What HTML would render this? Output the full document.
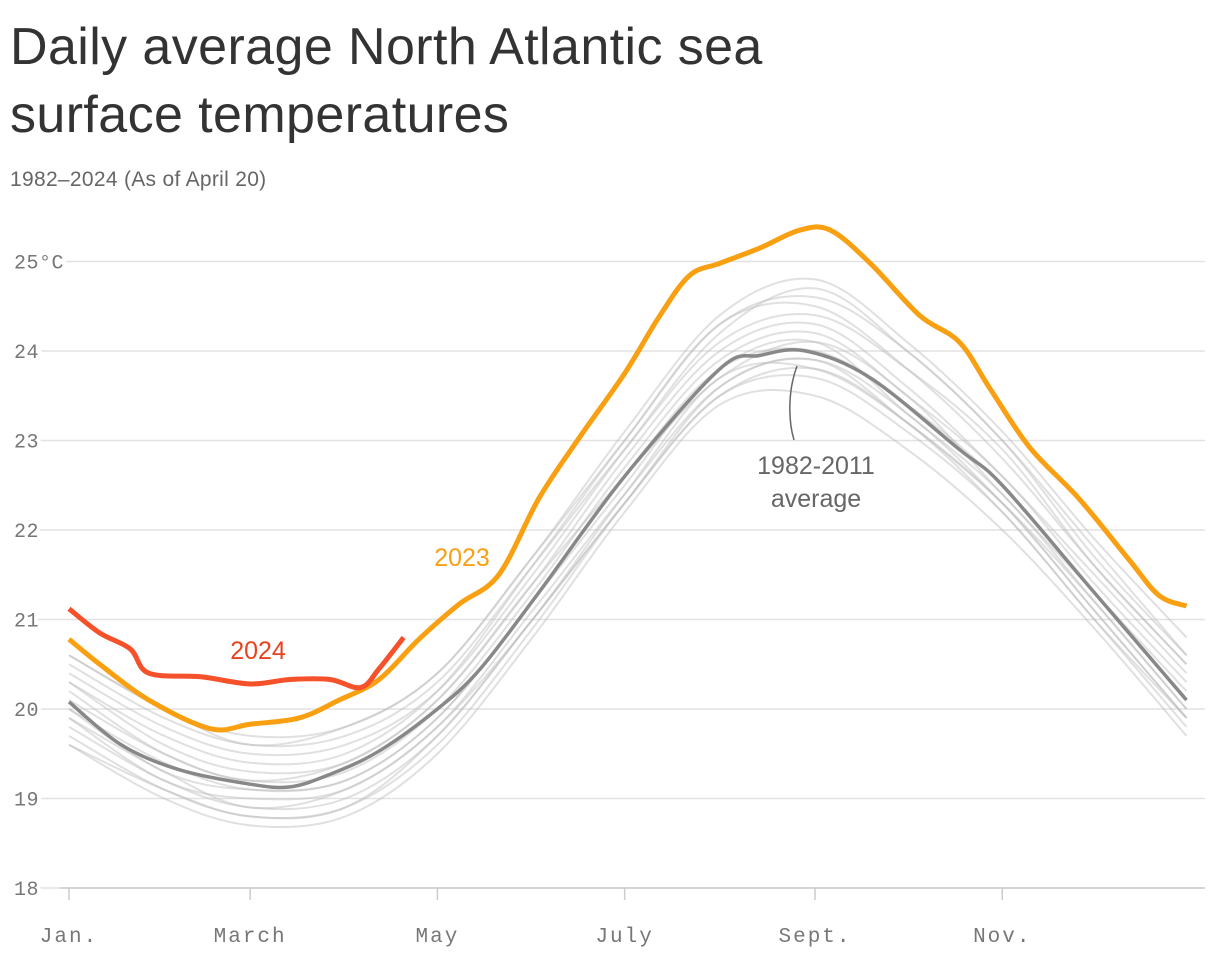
<!DOCTYPE html>
<html><head><meta charset="utf-8">
<style>
body{margin:0;background:#fff;width:1220px;height:966px;overflow:hidden;font-family:"Liberation Sans",sans-serif}
h1{position:absolute;left:10px;top:13px;margin:0;font-size:52px;line-height:68px;font-weight:normal;color:#333;letter-spacing:0.4px}
.sub{position:absolute;left:10px;top:168px;font-size:21px;color:#666;letter-spacing:0.3px}
svg{position:absolute;left:0;top:0}
</style></head><body>
<h1>Daily average North Atlantic sea<br>surface temperatures</h1>
<div class="sub">1982–2024 (As of April 20)</div>
<svg id="c" width="1220" height="966"></svg>
<script>
const yTicks=[18,19,20,21,22,23,24,25];
const monthLabels=["Jan.","March","May","July","Sept.","Nov."];
const monthDays=[0,59,120,181,243,304];
const bgDays=[0,31,59,90,120,151,181,212,243,273,304,334,364];
const bgYears=[
[20.5,19.9,19.6,19.7,20.3,21.6,22.9,24.1,24.4,23.8,22.9,21.6,20.5],
[19.8,19.2,18.9,19.0,19.7,21.0,22.3,23.5,23.7,23.1,22.2,21.0,19.9],
[20.3,19.6,19.3,19.4,20.1,21.4,22.8,24.0,24.3,23.6,22.6,21.5,20.4],
[19.6,19.0,18.7,18.8,19.5,20.8,22.2,23.4,23.5,22.9,22.0,20.9,19.7],
[20.0,19.4,19.1,19.2,19.9,21.2,22.6,23.8,24.0,23.4,22.5,21.3,20.1],
[20.6,20.0,19.7,19.8,20.4,21.7,23.0,24.3,24.6,24.0,23.0,21.8,20.6],
[19.9,19.3,18.9,19.1,19.8,21.1,22.4,23.6,23.9,23.2,22.3,21.2,20.0],
[20.2,19.5,19.2,19.3,20.0,21.3,22.7,23.9,24.2,23.5,22.6,21.4,20.3],
[20.4,19.8,19.5,19.6,20.2,21.5,22.9,24.2,24.7,24.0,23.0,21.7,20.6],
[19.7,19.1,18.8,18.9,19.6,20.9,22.3,23.5,23.8,23.2,22.2,21.0,19.8],
[20.1,19.5,19.2,19.4,20.1,21.4,22.6,23.7,24.1,23.5,22.4,21.3,20.2],
[20.3,19.7,19.4,19.5,20.2,21.6,23.0,24.3,24.5,23.8,22.8,21.6,20.5],
[19.9,19.2,19.0,19.1,19.8,21.0,22.4,23.7,23.8,23.2,22.3,21.1,19.9],
[20.6,20.0,19.6,19.8,20.4,21.7,23.1,24.4,24.8,24.1,23.1,21.9,20.8],
[20.0,19.3,19.1,19.2,19.9,21.2,22.5,23.8,24.1,23.3,22.4,21.2,20.0],
[19.6,19.1,18.8,18.9,19.7,21.0,22.3,23.6,23.9,23.3,22.3,21.1,19.9]];
const avgDays=[0,17,36,59,72,85,101,120,134,153,181,212,225,240,261,290,304,334,364];
const avgVals=[20.08,19.6,19.32,19.16,19.13,19.27,19.53,20.0,20.45,21.3,22.6,23.8,23.95,24.0,23.7,22.9,22.5,21.3,20.1];
const y23Days=[0,10,26,46,59,75,88,101,114,127,140,153,166,181,192,202,212,225,238,248,261,277,290,300,313,329,345,355,364];
const y23Vals=[20.78,20.5,20.1,19.78,19.83,19.9,20.1,20.33,20.78,21.17,21.5,22.35,23.02,23.75,24.37,24.84,24.98,25.15,25.35,25.35,24.98,24.4,24.1,23.58,22.92,22.35,21.68,21.27,21.15];
const y24Days=[0,10,20,26,43,59,72,85,95,101,109];
const y24Vals=[21.12,20.85,20.67,20.4,20.36,20.28,20.33,20.33,20.24,20.45,20.8];
const X=d=>69+d*3.07, Y=v=>888-(v-18)*89.5;
const s=document.getElementById('c'),NS='http://www.w3.org/2000/svg';
function mk(t,a,p){const e=document.createElementNS(NS,t);for(const k in a)e.setAttribute(k,a[k]);(p||s).appendChild(e);return e;}
function path(ds,vs){const p=ds.map((d,i)=>[X(d),Y(vs[i])]);let str='M'+p[0][0]+','+p[0][1];
for(let i=0;i<p.length-1;i++){const p0=p[i-1]||p[i],p1=p[i],p2=p[i+1],p3=p[i+2]||p2;
str+=`C${p1[0]+(p2[0]-p0[0])/6},${p1[1]+(p2[1]-p0[1])/6} ${p2[0]-(p3[0]-p1[0])/6},${p2[1]-(p3[1]-p1[1])/6} ${p2[0]},${p2[1]}`;}return str;}
yTicks.forEach(v=>{const l=mk('line',{x1:12,x2:1205,y1:Y(v),y2:Y(v),stroke:'#e2e2e2','stroke-width':1.5});

const t=mk('text',{x:14,y:Y(v)+7,'font-family':'Liberation Mono,monospace','font-size':20,fill:'#777',stroke:'#fff','stroke-width':8,'paint-order':'stroke','letter-spacing':'0.5'});
t.textContent=v===25?'25°C':String(v);});
const ax=mk('line',{x1:60,x2:1205,y1:888,y2:888,stroke:'#ccc','stroke-width':1.5});

monthDays.forEach((d,i)=>{const tk=mk('line',{x1:X(d),x2:X(d),y1:888,y2:900,stroke:'#ccc','stroke-width':1.5});

const t=mk('text',{x:X(d),y:942,'text-anchor':'middle','font-family':'Liberation Mono,monospace','font-size':21,fill:'#777','letter-spacing':'2'});
t.textContent=monthLabels[i];});
bgYears.forEach(v=>{const p=mk('path',{d:path(bgDays,v),fill:'none',stroke:'#bbb','stroke-opacity':0.45,'stroke-width':2});
});
const a=mk('path',{d:path(avgDays,avgVals),fill:'none',stroke:'#888','stroke-width':3.5});

const o=mk('path',{d:path(y23Days,y23Vals),fill:'none',stroke:'#f9a012','stroke-width':5});

const r=mk('path',{d:path(y24Days,y24Vals),fill:'none',stroke:'#f5512a','stroke-width':5});

const ld=mk('path',{d:'M797,366 C788,390 788,420 794,440',fill:'none',stroke:'#666','stroke-width':1.5});

function lab(x,y,txt,col,nm){const t=mk('text',{x:x,y:y,'text-anchor':'middle','font-size':25,fill:col,'font-family':'Liberation Sans,sans-serif'});t.textContent=txt;
}
lab(258,659,'2024','#e8421e','label-2024');
lab(462,566,'2023','#f9a012','label-2023');
lab(816,474,'1982-2011','#666','label-average-line1');
lab(816,507,'average','#666','label-average-line2');
</script>
</body></html>
